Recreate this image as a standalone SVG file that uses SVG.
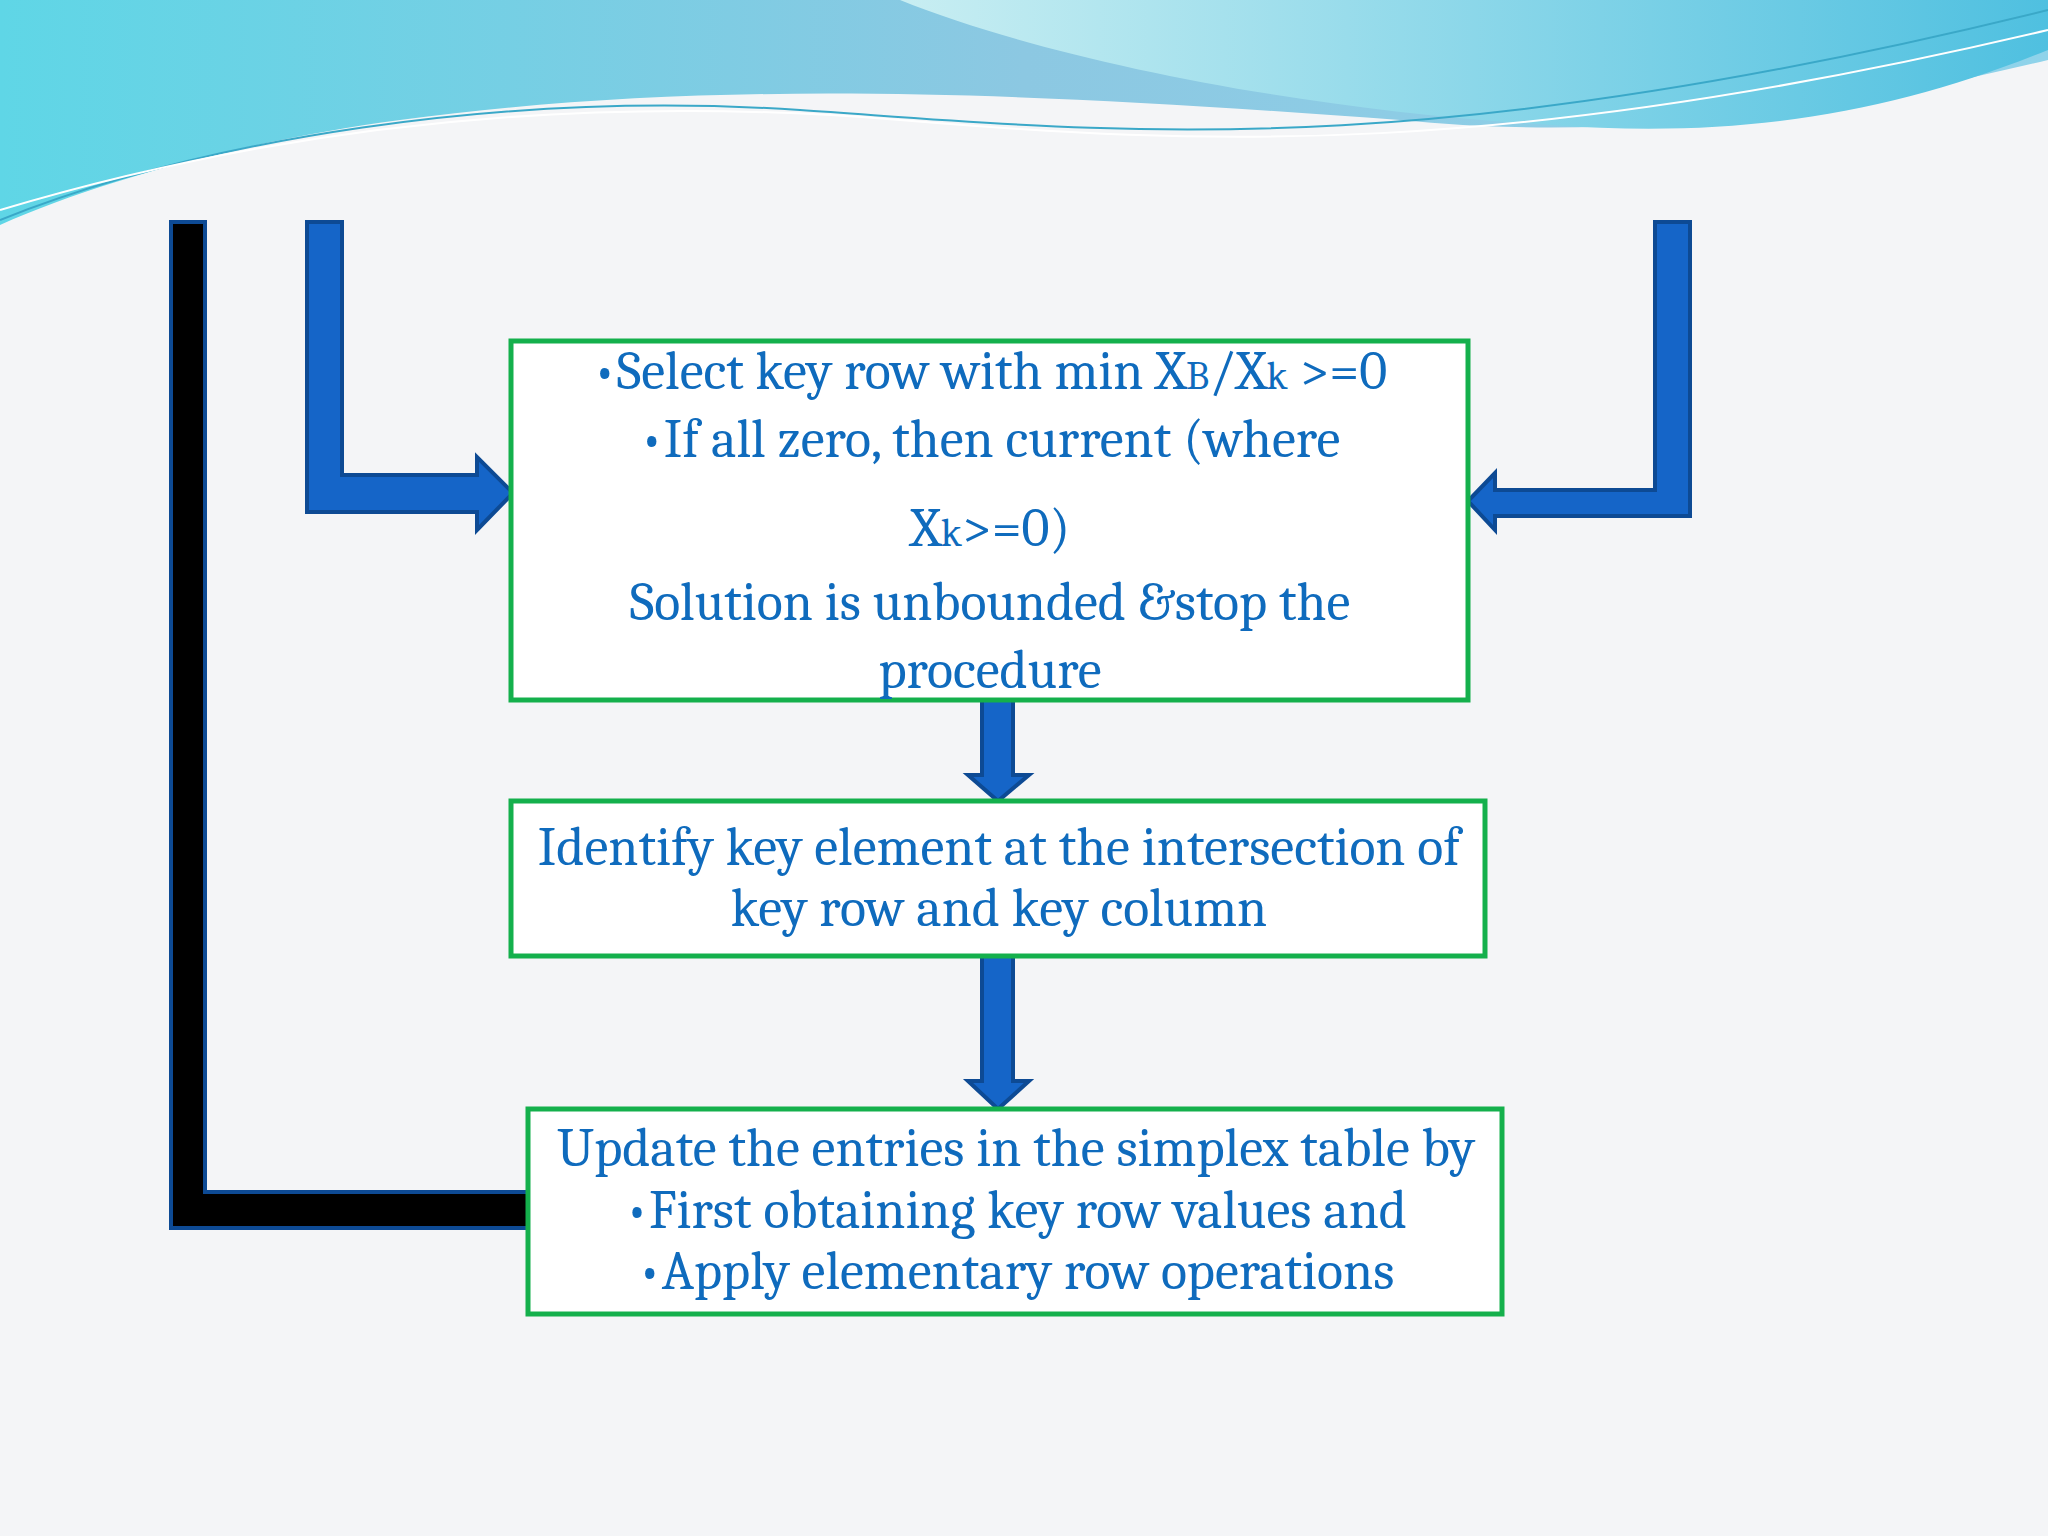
<svg xmlns="http://www.w3.org/2000/svg" width="2048" height="1536" viewBox="0 0 2048 1536">
<defs>
<linearGradient id="wv" x1="0" y1="0" x2="1" y2="0">
<stop offset="0" stop-color="#5fd6e6"/><stop offset="0.5" stop-color="#8cc8e2"/><stop offset="1" stop-color="#8fd3ea"/>
</linearGradient>
<linearGradient id="wv2" x1="0" y1="0" x2="1" y2="0">
<stop offset="0" stop-color="#c8eef2"/><stop offset="1" stop-color="#4fc0e0"/>
</linearGradient>
<style>
.box{fill:#fff;stroke:#14b04c;stroke-width:5}
.t{font-family:Cambria,"DejaVu Serif","Liberation Serif",serif;font-size:54px;fill:#0f6bbd;text-anchor:middle}
.blue{fill:#1565c8;stroke:#0d4a94;stroke-width:4}
.blk{fill:#000;stroke:#0d4a94;stroke-width:4}
</style>
</defs>
<rect width="2048" height="1536" fill="#f4f5f7"/>
<g id="wave">
<path d="M0 0 H2048 V60 C1800 120 1600 140 1400 120 C1000 90 700 80 400 120 C250 140 100 180 0 225 Z" fill="url(#wv)"/>
<path d="M900 0 H2048 V50 C1900 110 1750 140 1550 125 C1300 110 1050 60 900 0 Z" fill="url(#wv2)"/>
<path d="M0 220 C200 140 500 90 800 110 C1100 130 1400 170 2048 10" fill="none" stroke="#3aa8c8" stroke-width="2"/>
<path d="M0 210 C300 120 600 95 900 120 C1200 145 1500 160 2048 30" fill="none" stroke="#ffffff" stroke-width="2"/>
</g>
<g id="connectors">
<path class="blk" d="M171 222 H205 V1192 H528 V1228 H171 Z"/>
<path class="blue" d="M307 222 H342 V475 H477 V457 L513 493 L477 530 V512 H307 Z"/>
<path class="blue" d="M1655 222 H1690 V516 H1495 V530 L1468 501 L1495 473 V490 H1655 Z"/>
<path class="blue" d="M982 700 H1013 V775 H1029 L998 801 L968 775 H982 Z"/>
<path class="blue" d="M982 956 H1013 V1081 H1029 L998 1109 L968 1081 H982 Z"/>
</g>
<g id="box1">
<rect class="box" x="511" y="341" width="957" height="359"/>
<text class="t" x="990" y="389">•Select key row with min X<tspan font-size="40">B</tspan>/X<tspan font-size="40">k</tspan> &gt;=0</text>
<text class="t" x="990" y="457">•If all zero, then current (where</text>
<text class="t" x="990" y="546">X<tspan font-size="40">k</tspan>&gt;=0)</text>
<text class="t" x="990" y="620">Solution is unbounded &amp;stop the</text>
<text class="t" x="990" y="688">procedure</text>
</g>
<g id="box2">
<rect class="box" x="511" y="801" width="974" height="155"/>
<text class="t" x="999" y="865">Identify key element at the intersection of</text>
<text class="t" x="999" y="926">key row and key column</text>
</g>
<g id="box3">
<rect class="box" x="528" y="1109" width="974" height="205"/>
<text class="t" x="1016" y="1166">Update the entries in the simplex table by</text>
<text class="t" x="1016" y="1228">•First obtaining key row values and</text>
<text class="t" x="1016" y="1289">•Apply elementary row operations</text>
</g>
</svg>
